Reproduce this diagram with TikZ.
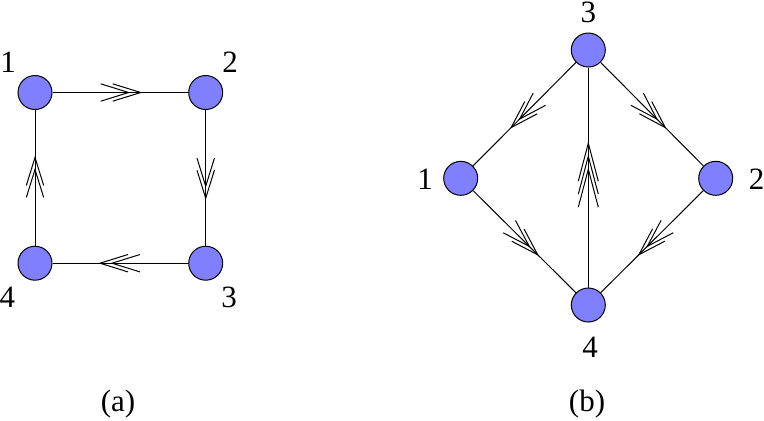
\documentclass[tikz,border=0pt]{standalone}
\usepackage{fontspec}
\setmainfont{Liberation Serif}
\usetikzlibrary{decorations.markings}
\definecolor{vertexblue}{RGB}{128,128,255}

\begin{document}
\begin{tikzpicture}[x=0.5pt,y=-0.5pt,line width=0.5pt,node distance=85.35pt,
  vertex/.style={circle,draw,fill=vertexblue,minimum size=17pt,inner sep=0pt},
  lbl/.style={font=\fontsize{15.5}{18}\selectfont,inner sep=0pt},
  two/.style={postaction={decorate},decoration={markings,mark=at position #1 with {
      \draw (-14pt,4.35pt) -- (0pt,0pt) -- (-14pt,-4.35pt);
      \draw (-20pt,4.35pt) -- (-6pt,0pt) -- (-20pt,-4.35pt);}}},
  three/.style={postaction={decorate},decoration={markings,mark=at position #1 with {
      \draw (-19pt,5pt) -- (0pt,0pt) -- (-19pt,-5pt);
      \draw (-25.5pt,5pt) -- (-6.5pt,0pt) -- (-25.5pt,-5pt);
      \draw (-32pt,5pt) -- (-13pt,0pt) -- (-32pt,-5pt);}}}]

            \useasboundingbox (0,0) rectangle (764,420);

            % (a)
            \node[vertex] (a1) at (35,92.5) {};
            \node[vertex] (a2) [right of = a1] {};
            \node[vertex] (a4) [below of = a1] {};
            \node[vertex] (a3) [right of = a4] {};

            \node[lbl] (la1) at (8,62.5) {1};
            \node[lbl] (la2) at (230,62.5) {2};
            \node[lbl] (la3) at (229,297.5) {3};
            \node[lbl] (la4) at (7.5,297.5) {4};
            \node[lbl] (capa) at (118,404) {(a)};

            \draw[two=0.65] (a1) to (a2);
            \draw[two=0.65] (a2) to (a3);
            \draw[two=0.65] (a3) to (a4);
            \draw[two=0.65] (a4) to (a1);

            % (b)
            \node[vertex] (b3) at (588.3,50) {};
            \node[vertex] (b1) at (460.7,178.3) {};
            \node[vertex] (b2) at (715.7,178.3) {};
            \node[vertex] (b4) at (588.3,305) {};

            \node[lbl] (lb1) at (425,179) {1};
            \node[lbl] (lb2) at (756.5,179) {2};
            \node[lbl] (lb3) at (588.3,12) {3};
            \node[lbl] (lb4) at (590,347.5) {4};
            \node[lbl] (capb) at (587,404) {(b)};

            \draw[two=0.63] (b3) to (b1);
            \draw[two=0.63] (b3) to (b2);
            \draw[two=0.63] (b1) to (b4);
            \draw[two=0.63] (b2) to (b4);
            \draw[three=0.656] (b4) to (b3);

\end{tikzpicture}
\end{document}
